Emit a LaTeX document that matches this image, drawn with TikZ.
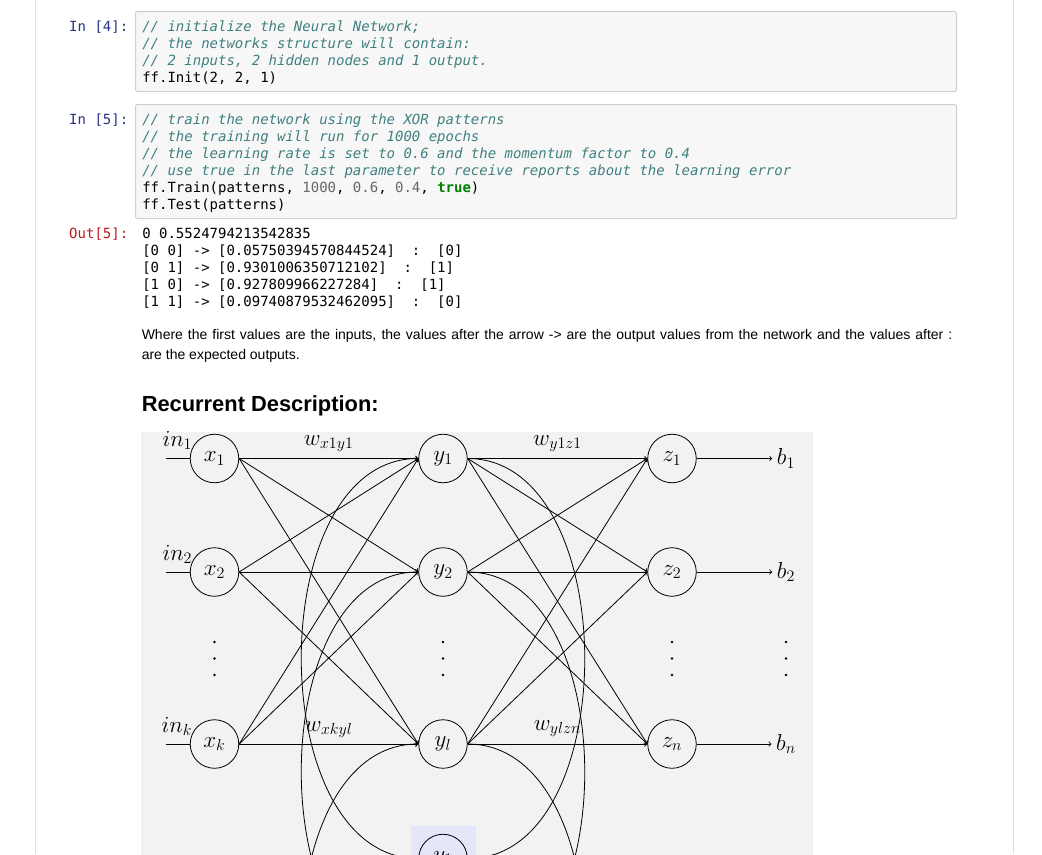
\documentclass[tikz,border=0pt]{standalone}
\usepackage[no-math]{fontspec}
\newfontfamily\codefont{DejaVu Sans Mono}
\newfontfamily\parafont{Liberation Sans}
\usetikzlibrary{calc}
\definecolor{cmtcol}{HTML}{408080}
\definecolor{numcol}{HTML}{666666}
\definecolor{kwcol}{HTML}{008000}
\definecolor{inprompt}{HTML}{28338A}
\definecolor{outprompt}{HTML}{BF1B1B}
\definecolor{cellbg}{HTML}{F7F7F7}
\definecolor{cellborder}{HTML}{CFCFCF}
\definecolor{diagbg}{HTML}{F2F2F2}
\definecolor{ctxbg}{HTML}{E6E6FA}
\definecolor{pageborder}{HTML}{E0E0E0}
\newcommand\cmtx[1]{{\itshape\color{cmtcol}#1}}
\newcommand\numx[1]{{\color{numcol}#1}}
\tikzset{
  codetext/.style={anchor=base west, inner sep=0pt, font=\codefont\fontsize{10.5}{12.75}\selectfont},
  prompttext/.style={anchor=base east, inner sep=0pt, font=\codefont\fontsize{10.5}{12.75}\selectfont},
  paratext/.style={anchor=base west, inner sep=0pt, font=\parafont\fontsize{10.5}{15}\selectfont},
  headtext/.style={anchor=base west, inner sep=0pt, font=\parafont\bfseries\fontsize{16.4}{20}\selectfont},
  cellbox/.style={draw=cellborder, fill=cellbg, line width=0.75pt, rounded corners=1.5pt},
  neuron/.style={circle, draw, line width=0.6pt, minimum size=36.4pt, inner sep=0pt, font=\fontsize{17.28}{20}\selectfont},
  mathlab/.style={inner sep=0pt, font=\fontsize{17.28}{20}\selectfont},
  outlab/.style={font=\fontsize{17.28}{20}\selectfont},
  wire/.style={line width=0.6pt},
  arrowwire/.style={wire, ->},
}
\begin{document}
\begin{tikzpicture}[x=0.75pt,y=-0.75pt]
\path[use as bounding box, fill=white] (0,0) rectangle (1042,854);
\clip (0,0) rectangle (1042,854);
\draw[pageborder, line width=0.75pt] (35.5,0) -- (35.5,854);
\draw[pageborder, line width=0.75pt] (1013.5,0) -- (1013.5,854);
% code cells
\draw[cellbox] (135.5,11.5) rectangle (956.5,91.5);
\draw[cellbox] (135.5,104.5) rectangle (956.5,218.5);
\node[prompttext, text=inprompt] (p4) at (128.5,31.5) {In [4]:};
\node[codetext] (c4a) at (142,31.5) {\cmtx{// initialize the Neural Network;}};
\node[codetext] (c4b) at (142,48.5) {\cmtx{// the networks structure will contain:}};
\node[codetext] (c4c) at (142,65.5) {\cmtx{// 2 inputs, 2 hidden nodes and 1 output.}};
\node[codetext] (c4d) at (142,82.5) {ff.Init(2, 2, 1)};
\node[prompttext, text=inprompt] (p5) at (128.5,124) {In [5]:};
\node[codetext] (c5a) at (142,124) {\cmtx{// train the network using the XOR patterns}};
\node[codetext] (c5b) at (142,141) {\cmtx{// the training will run for 1000 epochs}};
\node[codetext] (c5c) at (142,158) {\cmtx{// the learning rate is set to 0.6 and the momentum factor to 0.4}};
\node[codetext] (c5d) at (142,175) {\cmtx{// use true in the last parameter to receive reports about the learning error}};
\node[codetext] (c5e) at (142,192) {ff.Train(patterns, \numx{1000}, \numx{0.6}, \numx{0.4}, {\bfseries\color{kwcol}true})};
\node[codetext] (c5f) at (142,209) {ff.Test(patterns)};
\node[prompttext, text=outprompt] (o5) at (128.5,238) {Out[5]:};
\node[codetext] (o5a) at (142,238) {0 0.5524794213542835};
\node[codetext] (o5b) at (142,255) {[0 0] -> [0.05750394570844524]~~:~~[0]};
\node[codetext] (o5c) at (142,272) {[0 1] -> [0.9301006350712102]~~:~~[1]};
\node[codetext] (o5d) at (142,289) {[1 0] -> [0.927809966227284]~~:~~[1]};
\node[codetext] (o5e) at (142,306) {[1 1] -> [0.09740879532462095]~~:~~[0]};
% paragraph and heading
\node[paratext] (t1) at (141.5,339.3) {\hbox to 607.9pt{Where the first values are the inputs, the values after the arrow -> are the output values from the network and the values after :}};
\node[paratext] (t2) at (141.5,359) {are the expected outputs.};
\node[headtext] (h1) at (141.5,411.7) {Recurrent Description:};
% diagram background
\fill[diagbg] (141,432) rectangle (813,900);
\fill[ctxbg] (411,826) rectangle (476,1200);
% neurons
\node[neuron] (x1) at (214.5,458.5) {$x_1$};
\node[neuron] (x2) at (214.5,572) {$x_2$};
\node[neuron] (xk) at (214.5,744) {$x_k$};
\node[neuron] (y1) at (443,458.5) {$y_1$};
\node[neuron] (y2) at (443,572) {$y_2$};
\node[neuron] (yl) at (443,744) {$y_l$};
\node[neuron] (z1) at (672,458.5) {$z_1$};
\node[neuron] (z2) at (672,572) {$z_2$};
\node[neuron] (zn) at (672,744) {$z_n$};
\node[neuron] (c1) at (443,858.5) {$y_1$};
\node[neuron] (c2) at (443,972) {$y_2$};
\node[neuron] (cl) at (443,1144) {$y_l$};
% outputs
\node[outlab] (b1) at (786,458.5) {$b_1$};
\node[outlab] (b2) at (786,572) {$b_2$};
\node[outlab] (bn) at (786,744) {$b_n$};
% inputs
\coordinate (in1) at (166,458.5);
\coordinate (in2) at (166,572);
\coordinate (ink) at (166,744);
\node[mathlab, anchor=base east] (lin1) at (192.5,446) {$in_1$};
\node[mathlab, anchor=base east] (lin2) at (192.5,560) {$in_2$};
\node[mathlab, anchor=base east] (link) at (192.5,732) {$in_k$};
\foreach \a/\b in {in1/x1, in2/x2, ink/xk} \draw[wire] (\a) -- (\b.west);
% dots
\foreach \xx in {214.5,443,672,786} \foreach \yy in {642,658.5,675} \fill (\xx,\yy) circle[radius=1pt];
% connections
\foreach \a in {x1,x2,xk} \foreach \b in {y1,y2,yl} \draw[arrowwire] (\a.east) -- (\b.west);
\foreach \a in {y1,y2,yl} \foreach \b in {z1,z2,zn} \draw[arrowwire] (\a.east) -- (\b.west);
\foreach \a/\c in {y1/c1, y2/c2, yl/cl} {
  \draw[arrowwire] (\c.west) to[out=180,in=180] (\a.west);
  \draw[arrowwire] (\a.east) to[out=0,in=0] (\c.east);
}
\foreach \a/\b in {z1/b1, z2/b2, zn/bn} \draw[arrowwire] (\a.east) -- (\a.east -| \b.west);
% weight labels
\node[mathlab, anchor=base] (w1) at ($(x1.east)!0.5!(y1.west)+(0,-13)$) {$w_{x1y1}$};
\node[mathlab, anchor=base] (w2) at ($(y1.east)!0.5!(z1.west)+(0,-13.5)$) {$w_{y1z1}$};
\node[mathlab, anchor=base] (w3) at ($(xk.east)!0.5!(yl.west)+(0,-12.5)$) {$w_{xkyl}$};
\node[mathlab, anchor=base] (w4) at ($(yl.east)!0.5!(zn.west)+(0,-13.5)$) {$w_{ylzn}$};
\end{tikzpicture}
\end{document}
